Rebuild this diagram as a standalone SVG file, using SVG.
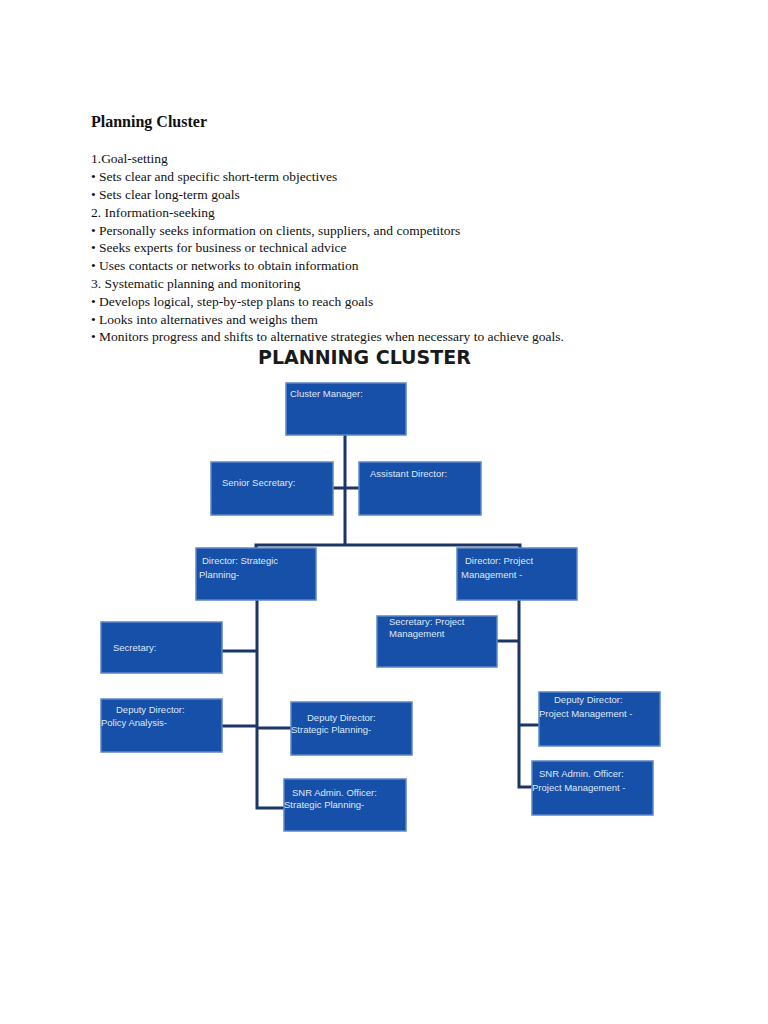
<svg xmlns="http://www.w3.org/2000/svg" width="768" height="1024" viewBox="0 0 768 1024">
<style>
.t{font-family:"Liberation Serif",serif;font-size:13.5px;fill:#111}
.h{font-family:"Liberation Serif",serif;font-size:16px;font-weight:bold;fill:#111}
.ct{font-family:"DejaVu Sans",sans-serif;font-size:19px;font-weight:bold;fill:#1a1a1a}
.box{fill:#1650a8;stroke:#5d86c6;stroke-width:1.5}
.bt{font-family:"Liberation Sans",sans-serif;font-size:9.5px;fill:#dfe8f7}
.c{stroke:#1a3566;stroke-width:3;fill:none}
</style>
<rect width="768" height="1024" fill="#fff"/>
<text class="h" x="91" y="127">Planning Cluster</text>
<g class="t">
<text x="91" y="163">1.Goal-setting</text>
<text x="91" y="181">• Sets clear and specific short-term objectives</text>
<text x="91" y="199">• Sets clear long-term goals</text>
<text x="91" y="217">2. Information-seeking</text>
<text x="91" y="235">• Personally seeks information on clients, suppliers, and competitors</text>
<text x="91" y="252">• Seeks experts for business or technical advice</text>
<text x="91" y="270">• Uses contacts or networks to obtain information</text>
<text x="91" y="288">3. Systematic planning and monitoring</text>
<text x="91" y="306">• Develops logical, step-by-step plans to reach goals</text>
<text x="91" y="324">• Looks into alternatives and weighs them</text>
<text x="91" y="341">• Monitors progress and shifts to alternative strategies when necessary to achieve goals.</text>
</g>
<text class="ct" x="258" y="364">PLANNING  CLUSTER</text>
<g id="connectors">
<path class="c" d="M345 435V545M333 488H359M256 548V545H520V548M257 600V808H284M222 651H257M222 726H257M257 728H291M519 600V787H532M497 641H519M519 725H539"/>
</g>
<g id="n1"><rect class="box" x="286" y="383" width="120" height="52"/><text class="bt" x="290" y="397">Cluster Manager:</text></g>
<g id="n2"><rect class="box" x="211" y="462" width="122" height="53"/><text class="bt" x="222" y="486">Senior Secretary:</text></g>
<g id="n3"><rect class="box" x="359" y="462" width="122" height="53"/><text class="bt" x="370" y="477">Assistant Director:</text></g>
<g id="n4"><rect class="box" x="196" y="548" width="120" height="52"/><text class="bt" x="202" y="564">Director: Strategic</text><text class="bt" x="199" y="578">Planning-</text></g>
<g id="n5"><rect class="box" x="457" y="548" width="120" height="52"/><text class="bt" x="465" y="564">Director: Project</text><text class="bt" x="461" y="578">Management -</text></g>
<g id="n6"><rect class="box" x="101" y="622" width="121" height="51"/><text class="bt" x="113" y="651">Secretary:</text></g>
<g id="n7"><rect class="box" x="101" y="699" width="121" height="53"/><text class="bt" x="116" y="713">Deputy Director:</text><text class="bt" x="101" y="726">Policy Analysis-</text></g>
<g id="n8"><rect class="box" x="291" y="702" width="121" height="53"/><text class="bt" x="307" y="721">Deputy Director:</text><text class="bt" x="291" y="733">Strategic Planning-</text></g>
<g id="n9"><rect class="box" x="284" y="779" width="122" height="52"/><text class="bt" x="292" y="796">SNR Admin. Officer:</text><text class="bt" x="284" y="808">Strategic Planning-</text></g>
<g id="n10"><rect class="box" x="377" y="616" width="120" height="51"/><text class="bt" x="389" y="625">Secretary: Project</text><text class="bt" x="389" y="637">Management</text></g>
<g id="n11"><rect class="box" x="539" y="692" width="121" height="54"/><text class="bt" x="554" y="703">Deputy Director:</text><text class="bt" x="539" y="717">Project Management -</text></g>
<g id="n12"><rect class="box" x="532" y="761" width="121" height="54"/><text class="bt" x="539" y="777">SNR Admin. Officer:</text><text class="bt" x="532" y="791">Project Management -</text></g>
</svg>
